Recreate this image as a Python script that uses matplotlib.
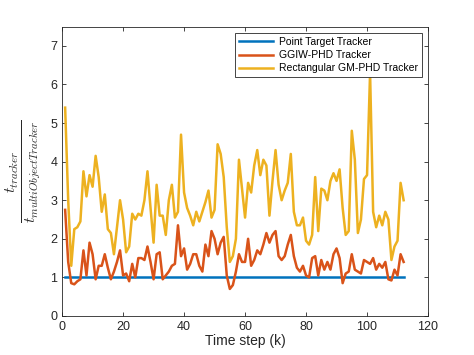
import matplotlib.pyplot as plt
import numpy as np

## tiempos relativos por paso
pasos = np.arange(1, 113)

rect_gmphd = [5.4, 3.0, 1.3, 2.25, 2.3, 2.45, 3.75, 3.1, 3.65, 3.35,
              4.15, 3.6, 2.7, 3.15, 2.25, 2.15, 1.6, 2.3, 3.0, 2.5,
              1.65, 1.8, 2.65, 2.5, 2.65, 2.6, 3.0, 3.75, 2.8, 1.9,
              3.4, 2.6, 2.6, 2.1, 3.0, 3.4, 2.55, 2.7, 4.7, 3.2,
              2.8, 2.6, 2.35, 2.7, 2.45, 2.7, 2.95, 3.25, 2.55, 2.75,
              4.45, 4.2, 3.6, 2.3, 1.4, 1.55, 2.0, 4.05, 3.3, 2.55,
              3.45, 3.2, 3.9, 4.3, 3.65, 4.05, 3.9, 2.6, 3.5, 4.3,
              3.4, 3.0, 3.25, 3.45, 4.2, 2.7, 2.35, 2.35, 2.55, 1.95,
              1.85, 2.1, 3.6, 2.2, 3.3, 3.25, 3.0, 3.5, 3.7, 3.5,
              3.8, 2.8, 2.1, 2.2, 4.8, 4.05, 2.15, 2.5, 3.55, 3.65,
              6.3, 2.7, 2.3, 2.6, 2.35, 2.7, 2.5, 1.45, 1.8, 1.95,
              3.45, 3.0]

ggiw_phd = [2.75, 1.4, 0.85, 0.82, 0.9, 0.95, 1.7, 1.05, 1.9, 1.6,
            0.95, 1.3, 1.3, 1.6, 1.25, 0.95, 1.15, 1.4, 1.7, 1.05,
            1.1, 0.9, 1.35, 1.0, 1.5, 1.5, 1.45, 1.8, 1.4, 0.95,
            1.6, 1.65, 0.95, 1.05, 1.15, 1.3, 1.35, 2.35, 1.55, 1.75,
            1.2, 1.35, 1.6, 1.6, 1.3, 1.15, 1.85, 1.55, 2.2, 2.0,
            1.6, 1.9, 2.05, 1.05, 0.7, 0.8, 1.15, 1.6, 1.4, 1.4,
            2.0, 1.3, 1.45, 1.7, 1.6, 1.85, 2.15, 1.9, 2.1, 2.2,
            1.55, 1.45, 1.55, 1.85, 2.1, 1.55, 1.25, 1.15, 1.3, 1.05,
            1.0, 1.5, 1.55, 1.05, 1.45, 1.2, 1.4, 1.2, 1.6, 1.75,
            1.5, 0.85, 1.1, 1.15, 1.6, 1.2, 1.15, 1.1, 1.45, 1.4,
            1.35, 1.5, 1.2, 1.35, 1.25, 1.4, 0.95, 0.92, 1.2, 1.05,
            1.6, 1.4]

punto = np.ones(len(pasos))

plt.rcParams['mathtext.fontset'] = 'cm'
plt.rcParams['font.family'] = ['Liberation Sans', 'DejaVu Sans']

fig = plt.figure(figsize=(4.74, 3.55), dpi=100)
ax = fig.add_axes([0.131, 0.110, 0.772, 0.815])

ax.plot(pasos, punto, color="#0072BD", lw=1.8, label="Point Target Tracker")
ax.plot(pasos, ggiw_phd, color="#D95319", lw=1.8, label="GGIW-PHD Tracker")
ax.plot(pasos, rect_gmphd, color="#EDB120", lw=1.8, label="Rectangular GM-PHD Tracker")

ax.set_xlim(0, 120)
ax.set_ylim(0, 7.5)
ax.set_xticks(np.arange(0, 121, 20))
ax.set_yticks(np.arange(0, 8, 1))
ax.tick_params(direction="in", top=True, right=True, labelsize=9,
               colors="#262626", length=3, width=0.6)
for s in ax.spines.values():
    s.set_color("#262626")
    s.set_linewidth(0.6)

ax.set_xlabel("Time step (k)", fontsize=10, color="#262626", labelpad=1)
ax.set_ylabel(r"$\frac{t_{tracker}}{t_{multiObjectTracker}}$", fontsize=16,
              color="#262626", labelpad=5)

leg = ax.legend(loc="upper right", fontsize=7.5, fancybox=False, framealpha=1,
                edgecolor="#262626", borderpad=0.4, labelspacing=0.3,
                handlelength=3.3, handletextpad=0.5, borderaxespad=0.6)
leg.get_frame().set_linewidth(0.6)

fig.savefig("out.png", dpi=100)
